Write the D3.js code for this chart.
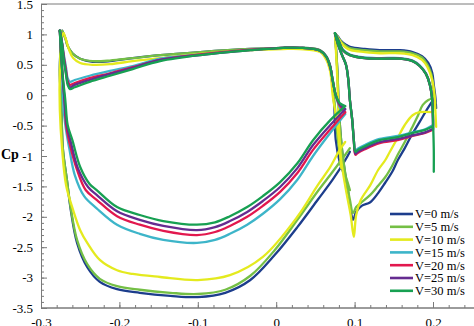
<!DOCTYPE html>
<html><head><meta charset="utf-8">
<script src="https://cdn.jsdelivr.net/npm/d3@7"></script>
<style>body{margin:0;background:#fff}svg{display:block}svg text{font-family:'Liberation Serif','Times New Roman',Times,serif !important}</style>
</head><body><svg id="c" width="474" height="326" font-family="Liberation Serif"></svg>
<script>
// ---------- DATA ----------
const speedLabels = ["V=0 m/s","V=5 m/s","V=10 m/s","V=15 m/s","V=20 m/s","V=25 m/s","V=30 m/s"];
const seriesColors = ["#1c3d8c","#74bf45","#e4ea1e","#3db5c9","#e2184e","#652c90","#17a052"];
const xMajorTicks = [-0.3,-0.2,-0.1,0,0.1,0.2];
const yMajorTicks = [-3.5,-3,-2.5,-2,-1.5,-1,-0.5,0,0.5,1,1.5];

// main element, pressure side (top branch) [x, Cp]
const mainUpper = [
 [[-0.273,1.06],[-0.269,0.94],[-0.266,0.81],[-0.260,0.69],[-0.250,0.60],[-0.234,0.55],[-0.212,0.56],[-0.183,0.61],[-0.148,0.66],[-0.097,0.71],[-0.033,0.76],[0.009,0.78],[0.030,0.78],[0.056,0.74],[0.064,0.64],[0.069,0.48],[0.071,0.25],[0.074,-0.16],[0.076,-0.74],[0.081,-1.10],[0.088,-1.36],[0.092,-1.61]],
 [[-0.273,1.06],[-0.269,0.94],[-0.266,0.81],[-0.260,0.69],[-0.250,0.60],[-0.234,0.56],[-0.212,0.57],[-0.183,0.61],[-0.148,0.66],[-0.097,0.71],[-0.033,0.76],[0.009,0.78],[0.030,0.78],[0.056,0.74],[0.064,0.63],[0.069,0.46],[0.072,0.22],[0.075,-0.21],[0.079,-0.77],[0.084,-1.15],[0.090,-1.39],[0.094,-1.56]],
 [[-0.271,1.02],[-0.268,0.91],[-0.264,0.74],[-0.259,0.61],[-0.250,0.53],[-0.234,0.50],[-0.212,0.51],[-0.183,0.56],[-0.148,0.61],[-0.097,0.68],[-0.033,0.74],[0.009,0.76],[0.030,0.76],[0.056,0.71],[0.064,0.58],[0.069,0.38],[0.072,0.00],[0.078,-0.49],[0.081,-0.90],[0.083,-1.20]],
 [[-0.276,1.06],[-0.273,0.86],[-0.271,0.68],[-0.268,0.45],[-0.266,0.28],[-0.263,0.22],[-0.257,0.25],[-0.238,0.32],[-0.212,0.40],[-0.183,0.48],[-0.148,0.60],[-0.097,0.67],[-0.033,0.75],[0.009,0.78],[0.030,0.78],[0.056,0.73],[0.064,0.63],[0.069,0.46],[0.072,0.25],[0.076,0.00],[0.081,-0.20],[0.088,-0.31]],
 [[-0.276,1.06],[-0.273,0.84],[-0.271,0.64],[-0.268,0.40],[-0.266,0.23],[-0.263,0.17],[-0.257,0.20],[-0.238,0.28],[-0.212,0.36],[-0.183,0.46],[-0.148,0.58],[-0.097,0.67],[-0.033,0.75],[0.009,0.78],[0.030,0.78],[0.056,0.73],[0.064,0.63],[0.069,0.46],[0.072,0.25],[0.076,0.00],[0.081,-0.17],[0.088,-0.28]],
 [[-0.276,1.06],[-0.273,0.84],[-0.271,0.61],[-0.268,0.36],[-0.266,0.20],[-0.263,0.13],[-0.257,0.17],[-0.238,0.25],[-0.212,0.35],[-0.183,0.45],[-0.148,0.58],[-0.097,0.66],[-0.033,0.74],[0.009,0.78],[0.030,0.78],[0.056,0.73],[0.064,0.63],[0.069,0.46],[0.072,0.25],[0.076,0.00],[0.081,-0.15],[0.088,-0.23]],
 [[-0.276,1.06],[-0.273,0.83],[-0.271,0.58],[-0.268,0.33],[-0.266,0.17],[-0.263,0.10],[-0.257,0.13],[-0.238,0.22],[-0.212,0.32],[-0.183,0.43],[-0.148,0.56],[-0.097,0.66],[-0.033,0.74],[0.009,0.78],[0.030,0.78],[0.056,0.73],[0.064,0.63],[0.069,0.46],[0.072,0.25],[0.076,0.00],[0.081,-0.13],[0.088,-0.18]]
];

// main element, suction side (bottom branch) [x, Cp]
const mainLower = [
 [[-0.274,1.01],[-0.276,0.41],[-0.274,-0.24],[-0.272,-0.90],[-0.267,-1.39],[-0.262,-1.89],[-0.254,-2.43],[-0.241,-2.83],[-0.225,-3.07],[-0.203,-3.19],[-0.174,-3.25],[-0.135,-3.30],[-0.100,-3.32],[-0.065,-3.25],[-0.033,-3.04],[-0.002,-2.63],[0.027,-2.17],[0.053,-1.72],[0.072,-1.39],[0.088,-1.07],[0.094,-0.93]],
 [[-0.274,1.01],[-0.276,0.41],[-0.274,-0.24],[-0.272,-0.90],[-0.267,-1.39],[-0.262,-1.86],[-0.254,-2.38],[-0.241,-2.78],[-0.225,-3.02],[-0.203,-3.14],[-0.174,-3.20],[-0.135,-3.25],[-0.100,-3.27],[-0.065,-3.20],[-0.033,-2.97],[-0.002,-2.55],[0.027,-2.05],[0.053,-1.58],[0.072,-1.26],[0.088,-0.98],[0.094,-0.87]],
 [[-0.273,1.01],[-0.276,0.41],[-0.276,-0.24],[-0.273,-0.90],[-0.268,-1.48],[-0.259,-1.89],[-0.250,-2.22],[-0.241,-2.43],[-0.225,-2.71],[-0.203,-2.88],[-0.183,-2.94],[-0.148,-2.99],[-0.100,-3.04],[-0.059,-2.96],[-0.017,-2.66],[0.027,-2.00],[0.053,-1.48],[0.069,-1.18],[0.081,-0.90],[0.088,-0.77]],
 [[-0.276,1.06],[-0.273,0.41],[-0.272,-0.08],[-0.269,-0.49],[-0.264,-0.87],[-0.257,-1.31],[-0.245,-1.66],[-0.229,-1.86],[-0.203,-2.13],[-0.174,-2.28],[-0.144,-2.38],[-0.101,-2.43],[-0.078,-2.38],[-0.059,-2.28],[-0.037,-2.13],[-0.017,-1.95],[0.005,-1.71],[0.027,-1.39],[0.047,-1.00],[0.069,-0.62],[0.088,-0.31]],
 [[-0.276,1.06],[-0.273,0.41],[-0.270,-0.08],[-0.268,-0.49],[-0.263,-0.82],[-0.254,-1.23],[-0.243,-1.56],[-0.229,-1.72],[-0.203,-1.99],[-0.174,-2.13],[-0.144,-2.23],[-0.101,-2.30],[-0.078,-2.25],[-0.059,-2.15],[-0.037,-2.00],[-0.017,-1.82],[0.005,-1.59],[0.027,-1.28],[0.047,-0.90],[0.069,-0.56],[0.088,-0.28]],
 [[-0.276,1.06],[-0.273,0.41],[-0.270,-0.08],[-0.267,-0.49],[-0.262,-0.77],[-0.253,-1.20],[-0.240,-1.51],[-0.229,-1.64],[-0.203,-1.91],[-0.174,-2.05],[-0.144,-2.15],[-0.101,-2.22],[-0.078,-2.17],[-0.059,-2.07],[-0.037,-1.92],[-0.017,-1.74],[0.005,-1.51],[0.027,-1.20],[0.047,-0.82],[0.069,-0.49],[0.088,-0.23]],
 [[-0.276,1.06],[-0.273,0.41],[-0.269,-0.08],[-0.266,-0.49],[-0.260,-0.74],[-0.250,-1.18],[-0.238,-1.46],[-0.229,-1.56],[-0.203,-1.84],[-0.174,-1.97],[-0.144,-2.07],[-0.101,-2.13],[-0.078,-2.09],[-0.059,-1.99],[-0.037,-1.84],[-0.017,-1.66],[0.005,-1.43],[0.027,-1.12],[0.047,-0.74],[0.069,-0.41],[0.088,-0.18]]
];

// flap, pressure side [x, Cp]
const flapUpper = [
 [[0.075,1.02],[0.079,0.96],[0.083,0.89],[0.089,0.83],[0.095,0.79],[0.113,0.76],[0.132,0.74],[0.158,0.74],[0.174,0.71],[0.186,0.64],[0.194,0.53],[0.199,0.37],[0.201,0.17],[0.203,-0.03],[0.204,-0.21]],
 [[0.075,1.02],[0.079,0.95],[0.083,0.88],[0.089,0.81],[0.095,0.77],[0.113,0.74],[0.132,0.72],[0.158,0.72],[0.174,0.69],[0.186,0.62],[0.193,0.50],[0.198,0.34],[0.200,0.14],[0.202,-0.06],[0.203,-0.13]],
 [[0.075,1.02],[0.079,0.94],[0.083,0.86],[0.089,0.78],[0.095,0.74],[0.113,0.71],[0.132,0.69],[0.158,0.69],[0.174,0.66],[0.186,0.58],[0.193,0.46],[0.199,0.25],[0.202,0.00],[0.203,-0.25],[0.204,-0.52]],
 [[0.075,1.02],[0.080,0.89],[0.085,0.75],[0.094,0.67],[0.113,0.62],[0.132,0.61],[0.158,0.61],[0.174,0.57],[0.183,0.49],[0.191,0.36],[0.196,0.18],[0.199,-0.08],[0.200,-0.40],[0.200,-0.50]],
 [[0.075,1.02],[0.080,0.88],[0.085,0.74],[0.094,0.66],[0.113,0.61],[0.132,0.60],[0.158,0.60],[0.174,0.56],[0.183,0.48],[0.191,0.35],[0.196,0.17],[0.199,-0.08],[0.200,-0.40],[0.200,-0.57]],
 [[0.075,1.02],[0.080,0.88],[0.085,0.74],[0.094,0.66],[0.113,0.61],[0.132,0.60],[0.158,0.60],[0.174,0.56],[0.183,0.48],[0.191,0.35],[0.196,0.17],[0.199,-0.08],[0.200,-0.40],[0.200,-0.56]],
 [[0.075,1.02],[0.080,0.88],[0.085,0.74],[0.094,0.66],[0.113,0.61],[0.132,0.60],[0.158,0.60],[0.174,0.56],[0.183,0.48],[0.191,0.35],[0.196,0.17],[0.199,-0.08],[0.200,-0.41],[0.201,-0.90],[0.201,-1.26]]
];

// flap, suction side [x, Cp]
const flapLower = [
 [[0.075,1.02],[0.078,0.41],[0.080,-0.24],[0.084,-0.90],[0.089,-1.39],[0.094,-1.81],[0.098,-2.05],[0.102,-1.92],[0.109,-1.82],[0.120,-1.76],[0.130,-1.61],[0.139,-1.44],[0.148,-1.26],[0.155,-1.07],[0.164,-0.87],[0.173,-0.65],[0.183,-0.44],[0.192,-0.24],[0.200,-0.08]],
 [[0.075,1.02],[0.078,0.41],[0.080,-0.24],[0.084,-0.90],[0.089,-1.36],[0.094,-1.72],[0.098,-1.94],[0.102,-1.84],[0.108,-1.77],[0.120,-1.64],[0.130,-1.49],[0.139,-1.35],[0.148,-1.16],[0.155,-0.98],[0.164,-0.77],[0.173,-0.54],[0.181,-0.33],[0.187,-0.16],[0.194,-0.08],[0.200,-0.05]],
 [[0.075,1.02],[0.078,0.25],[0.080,-0.49],[0.083,-1.07],[0.089,-1.56],[0.095,-1.97],[0.099,-2.33],[0.102,-1.97],[0.108,-1.72],[0.120,-1.48],[0.130,-1.23],[0.139,-1.07],[0.145,-0.93],[0.155,-0.70],[0.164,-0.49],[0.174,-0.33],[0.183,-0.28],[0.200,-0.28]],
 [[0.075,1.02],[0.079,0.83],[0.084,0.66],[0.089,0.50],[0.092,0.25],[0.094,-0.08],[0.097,-0.41],[0.099,-0.74],[0.101,-0.91],[0.104,-0.88],[0.113,-0.82],[0.132,-0.72],[0.155,-0.67],[0.174,-0.61],[0.190,-0.56],[0.199,-0.50]],
 [[0.075,1.02],[0.079,0.83],[0.084,0.66],[0.089,0.50],[0.092,0.25],[0.094,-0.08],[0.097,-0.41],[0.099,-0.74],[0.101,-0.98],[0.104,-0.95],[0.113,-0.89],[0.132,-0.79],[0.155,-0.74],[0.174,-0.67],[0.190,-0.62],[0.199,-0.57]],
 [[0.075,1.02],[0.079,0.83],[0.084,0.66],[0.089,0.50],[0.092,0.25],[0.094,-0.08],[0.097,-0.41],[0.099,-0.74],[0.101,-0.96],[0.104,-0.93],[0.113,-0.87],[0.132,-0.77],[0.155,-0.72],[0.174,-0.66],[0.190,-0.61],[0.199,-0.56]],
 [[0.075,1.02],[0.079,0.83],[0.084,0.66],[0.089,0.50],[0.092,0.25],[0.094,-0.08],[0.097,-0.41],[0.099,-0.74],[0.101,-0.93],[0.104,-0.90],[0.113,-0.84],[0.132,-0.74],[0.155,-0.69],[0.174,-0.62],[0.190,-0.57],[0.199,-0.52]]
];

// ---------- CHART ----------
const svg = d3.select('#c');
const x = d3.scaleLinear().domain([-0.3, 0.25]).range([41, 472.2]);
const y = d3.scaleLinear().domain([-3.5, 1.5]).range([308, 4]);
const font = "'Liberation Serif', 'Times New Roman', Times, serif";
const axisColor = '#7a7a7a';
const fmt = d => String(+d.toFixed(2));

const yMinor = d3.range(-35, 16).map(v => v / 10);
const xMinor = d3.range(-15, 13).map(v => v / 50);

// top border
svg.append('line').attr('x1', x(-0.3)).attr('x2', 474).attr('y1', y(1.5)).attr('y2', y(1.5))
  .attr('stroke', axisColor).attr('stroke-width', 1);

function styleAxis(g) {
  g.attr('font-family', font).attr('font-size', 13);
  g.selectAll('path.domain').attr('stroke', axisColor);
  g.selectAll('line').attr('stroke', axisColor);
  g.selectAll('text').attr('fill', '#000');
}

svg.append('g').attr('transform', `translate(${x(-0.3)},0)`)
  .call(d3.axisLeft(y).tickValues(yMinor).tickSize(-3).tickSizeOuter(0).tickFormat(''))
  .call(styleAxis);
svg.append('g').attr('transform', `translate(${x(-0.3)},0)`)
  .call(d3.axisLeft(y).tickValues(yMajorTicks).tickSize(-6).tickSizeOuter(0).tickPadding(8).tickFormat(fmt))
  .call(styleAxis);

svg.append('g').attr('transform', `translate(0,${y(-3.5)})`)
  .call(d3.axisBottom(x).tickValues(xMinor).tickSize(-3).tickSizeOuter(0).tickFormat(''))
  .call(styleAxis)
  .call(g => g.select('path.domain').attr('d', `M${x(-0.3)},0H474`));
svg.append('g').attr('transform', `translate(0,${y(-3.5)})`)
  .call(d3.axisBottom(x).tickValues(xMajorTicks).tickSize(-6).tickSizeOuter(0).tickPadding(10).tickFormat(fmt))
  .call(styleAxis)
  .call(g => g.select('path.domain').attr('d', `M${x(-0.3)},0H474`));

// Cp label
svg.append('text').attr('x', 1).attr('y', 159).text('Cp')
  .attr('font-family', font).attr('font-size', 14).attr('font-weight', 'bold').attr('fill', '#000');

// curves
const line = d3.line().x(d => x(d[0])).y(d => y(d[1])).curve(d3.curveCatmullRom.alpha(0.5));
const plot = svg.append('g');
speedLabels.forEach((lab, i) => {
  [mainUpper[i], mainLower[i], flapUpper[i], flapLower[i]].forEach(pts => {
    plot.append('path').attr('d', line(pts)).attr('fill', 'none')
      .attr('stroke', seriesColors[i]).attr('stroke-width', 2.3)
      .attr('stroke-linejoin', 'round').attr('stroke-linecap', 'round');
  });
});

// legend
const leg = svg.append('g');
speedLabels.forEach((lab, i) => {
  const ly = 214 + i * 12.8;
  leg.append('line').attr('x1', 390).attr('x2', 413).attr('y1', ly).attr('y2', ly)
    .attr('stroke', seriesColors[i]).attr('stroke-width', 2.6);
  leg.append('text').attr('x', 415).attr('y', ly + 4.3).text(lab)
    .attr('font-family', font).attr('font-size', 12.5).attr('fill', '#000');
});
</script></body></html>
